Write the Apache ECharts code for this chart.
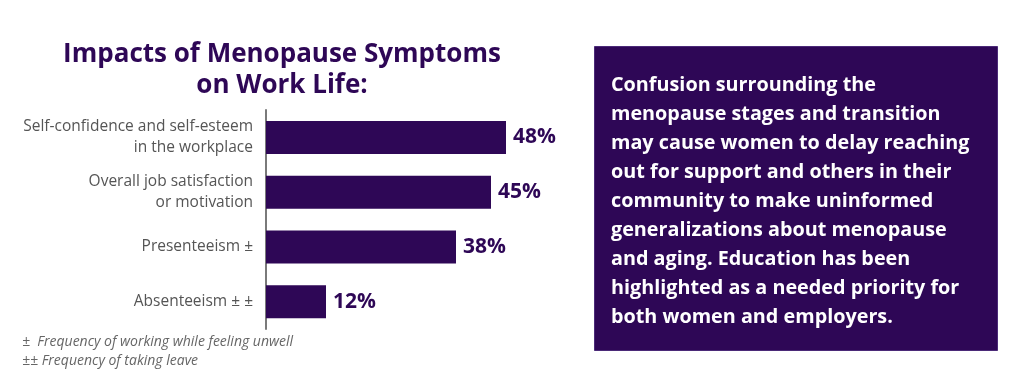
<!DOCTYPE html>
<html>
<head>
<meta charset="utf-8">
<script src="https://cdn.jsdelivr.net/npm/echarts@6/dist/echarts.min.js"></script>
<style>
html,body{margin:0;padding:0;background:#fff;}
#chart{width:1024px;height:385px;}
</style>
</head>
<body>
<div id="chart"></div>
<script>
var categories = [
  'Self-confidence and self-esteem\nin the workplace',
  'Overall job satisfaction\nor motivation',
  'Presenteeism \u00b1',
  'Absenteeism \u00b1 \u00b1'
];
var values = [48, 45, 38, 12];
var titleText = 'Impacts of Menopause Symptoms\non Work Life:';
var footnotes = ['\u00b1  Frequency of working while feeling unwell', '\u00b1\u00b1 Frequency of taking leave'];
var boxText = [
  'Confusion surrounding the',
  'menopause stages and transition',
  'may cause women to delay reaching',
  'out for support and others in their',
  'community to make uninformed',
  'generalizations about menopause',
  'and aging. Education has been',
  'highlighted as a needed priority for',
  'both women and employers.'
];

var PURPLE = '#2e0756';
var FONT = '"Open Sans", Lato, sans-serif';

var chart = echarts.init(document.getElementById('chart'));
chart.setOption({
  backgroundColor: '#ffffff',
  animation: false,
  grid: { left: 266, top: 110, width: 300, height: 219 },
  xAxis: {
    type: 'value', min: 0, max: 60,
    show: false
  },
  yAxis: {
    type: 'category',
    data: categories,
    inverse: true,
    axisLine: { show: true, lineStyle: { color: '#7a7a7a', width: 2 } },
    axisTick: { show: false },
    axisLabel: {
      margin: 13, fontSize: 15.5, color: '#555555', lineHeight: 21,
      fontFamily: FONT, align: 'right'
    }
  },
  series: [{
    type: 'bar',
    data: values,
    barWidth: 33,
    itemStyle: { color: PURPLE },
    label: {
      show: true, position: 'right', distance: 7,
      formatter: '{c}%', fontSize: 21, fontWeight: 'bold',
      color: PURPLE, fontFamily: FONT
    }
  }],
  graphic: [
    {
      type: 'text', x: 282, y: 39,
      style: {
        text: titleText, fill: PURPLE, font: 'bold 26px ' + FONT,
        textAlign: 'center', textVerticalAlign: 'top', lineHeight: 31
      }
    },
    {
      type: 'text', x: 22, y: 332,
      style: {
        text: footnotes.join('\n'), fill: '#666666', font: 'italic 14px ' + FONT,
        textAlign: 'left', textVerticalAlign: 'top', lineHeight: 19.5
      }
    },
    {
      type: 'rect',
      shape: { x: 594.5, y: 46.5, width: 403, height: 304 },
      style: { fill: PURPLE, stroke: '#4b2a78', lineWidth: 1 }
    },
    {
      type: 'text', x: 611, y: 70.5,
      style: {
        text: boxText.join('\n'), fill: '#ffffff', font: 'bold 19.8px ' + FONT,
        textAlign: 'left', textVerticalAlign: 'top', lineHeight: 29
      }
    }
  ]
});
</script>
</body>
</html>
